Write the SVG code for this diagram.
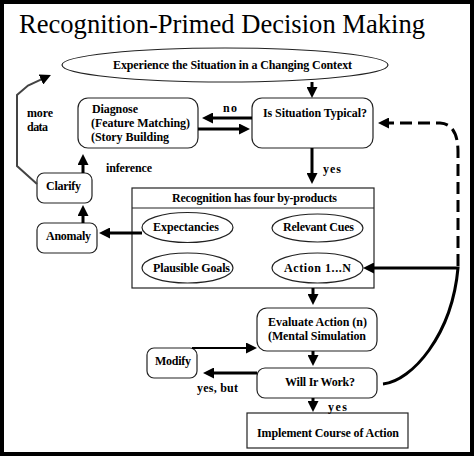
<svg xmlns="http://www.w3.org/2000/svg" width="474" height="456" viewBox="0 0 474 456">
<style>
.t{font-family:"Liberation Serif","Times New Roman",serif;font-weight:bold;font-size:12px;fill:#000}
.title{font-family:"Liberation Serif","Times New Roman",serif;font-size:27px;fill:#000}
.box{fill:#fff;stroke:#222;stroke-width:1.2}
.c{fill:none;stroke:#000;stroke-width:3}
.thin{stroke-width:2}
.dash{stroke-dasharray:12 6}
.gray{stroke:#444;stroke-width:2}
</style>
<defs>
<marker id="ah" markerUnits="userSpaceOnUse" viewBox="0 0 11 11" markerWidth="11" markerHeight="11" refX="7" refY="5.5" orient="auto">
<path d="M0,0 L11,5.5 L0,11 z" fill="#000"/>
</marker>
</defs>
<rect x="0" y="0" width="474" height="456" fill="#fff"/>
<rect x="2" y="2" width="470" height="452" fill="none" stroke="#000" stroke-width="4"/>
<text class="title" x="19" y="33" textLength="406" lengthAdjust="spacingAndGlyphs">Recognition-Primed Decision Making</text>

<g id="experience">
<ellipse class="box" cx="225" cy="65" rx="163" ry="17"/>
<text class="t" x="113" y="69" textLength="239">Experience the Situation in a Changing Context</text>
</g>
<g id="typical">
<rect class="box" x="252" y="98" width="121" height="50" rx="10"/>
<text class="t" x="263" y="117" textLength="104">Is Situation Typical?</text>
</g>
<g id="diagnose">
<rect class="box" x="78" y="98" width="120" height="50" rx="10"/>
<text class="t" x="92" y="113" textLength="46">Diagnose</text>
<text class="t" x="91" y="127" textLength="99">(Feature Matching)</text>
<text class="t" x="91" y="141" textLength="78">(Story Building</text>
</g>
<g id="clarify">
<rect class="box" x="37" y="173" width="55" height="30" rx="7"/>
<text class="t" x="46" y="190" textLength="35">Clarify</text>
</g>
<g id="anomaly">
<rect class="box" x="37" y="223" width="60" height="30" rx="7"/>
<text class="t" x="46" y="240" textLength="45">Anomaly</text>
</g>
<g id="recognition">
<rect class="box" x="132" y="188" width="242" height="100"/>
<line x1="132" y1="208" x2="374" y2="208" stroke="#222" stroke-width="1.2"/>
<text class="t" x="172" y="202" textLength="165">Recognition has four by-products</text>
</g>
<g id="expectancies">
<ellipse class="box" cx="187.5" cy="227.5" rx="45.5" ry="15"/>
<text class="t" x="153" y="231" textLength="66">Expectancies</text>
</g>
<g id="relevant-cues">
<ellipse class="box" cx="317.5" cy="228" rx="45.5" ry="14"/>
<text class="t" x="283" y="231" textLength="71">Relevant Cues</text>
</g>
<g id="plausible-goals">
<ellipse class="box" cx="187.5" cy="268" rx="45.5" ry="15"/>
<text class="t" x="153" y="272" textLength="77">Plausible Goals</text>
</g>
<g id="action">
<ellipse class="box" cx="317.5" cy="268" rx="45.5" ry="15"/>
<text class="t" x="284" y="272" textLength="67">Action 1...N</text>
</g>
<g id="evaluate">
<rect class="box" x="257" y="308" width="120" height="43" rx="10"/>
<text class="t" x="268" y="326" textLength="99">Evaluate Action (n)</text>
<text class="t" x="268" y="340" textLength="98">(Mental Simulation</text>
</g>
<g id="modify">
<rect class="box" x="147" y="348" width="50" height="30" rx="7"/>
<text class="t" x="155" y="365" textLength="36">Modify</text>
</g>
<g id="will-it-work">
<rect class="box" x="257" y="368" width="120" height="30" rx="8"/>
<text class="t" x="285" y="386" textLength="70">Will Ir Work?</text>
</g>
<g id="implement">
<rect class="box" x="247" y="413" width="161" height="35"/>
<text class="t" x="257" y="437" textLength="142">Implement Course of Action</text>
</g>

<g id="connectors">
<path class="c" d="M312,82 L312,94" marker-end="url(#ah)"/>
<path class="c" d="M252,118 L206,118" marker-end="url(#ah)"/>
<path class="c" d="M198,129 L246,129" marker-end="url(#ah)"/>
<path class="c" d="M312,148 L312,180" marker-end="url(#ah)"/>
<path class="c" d="M83,173 L83,158" marker-end="url(#ah)"/>
<path class="c" d="M83,223 L83,209" marker-end="url(#ah)"/>
<path class="c" d="M142,233 L103,233" marker-end="url(#ah)"/>
<path class="c gray" d="M37,184 L17,166 L17,95 L28,85.5 L47.3,76.6" marker-end="url(#ah)"/>
<path class="c" d="M313,288 L313,301" marker-end="url(#ah)"/>
<path class="c" d="M313,351 L313,362" marker-end="url(#ah)"/>
<path class="c" d="M313,398 L313,408" marker-end="url(#ah)"/>
<path class="c thin" d="M192,348 L253,348" marker-end="url(#ah)"/>
<path class="c" d="M257,373 L207,373" marker-end="url(#ah)"/>
<path class="c" d="M383,384 C412,381 452,335 458,268 L367,268" marker-end="url(#ah)"/>
<path class="c dash" d="M458,266 L458,152 Q458,124 440,123 L382,123" marker-end="url(#ah)"/>
<text class="t" x="223" y="112" textLength="14">no</text>
<text class="t" x="323" y="173" textLength="18">yes</text>
<text class="t" x="27" y="117" textLength="26">more</text>
<text class="t" x="27" y="131" textLength="21">data</text>
<text class="t" x="106" y="172" textLength="46">inference</text>
<text class="t" x="197" y="392" textLength="41">yes, but</text>
<text class="t" x="328" y="411" textLength="19">yes</text>
</g>
</svg>
